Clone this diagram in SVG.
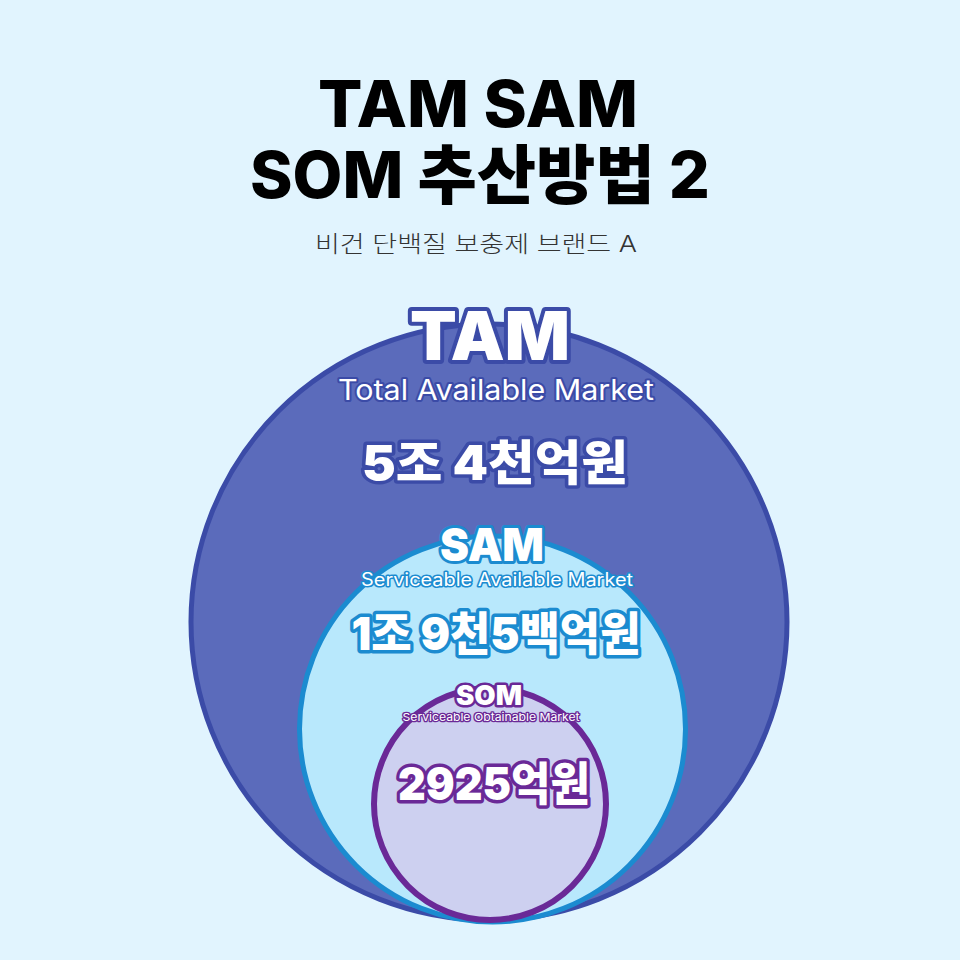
<svg xmlns="http://www.w3.org/2000/svg" width="960" height="960" viewBox="0 0 960 960">
<style>
.t{font-family:Inter,"Noto Sans CJK KR","Liberation Sans",sans-serif;text-anchor:middle}
.h{font-weight:800;fill:#000}
.o{font-weight:900;fill:#fff;paint-order:stroke;stroke-linejoin:round}
.s{font-weight:400;fill:#fff;paint-order:stroke;stroke-linejoin:round}
</style>
<rect width="960" height="960" fill="#E1F4FE"/>
<g id="title">
<text class="t h" x="478" y="127" font-size="64" textLength="320" lengthAdjust="spacingAndGlyphs">TAM SAM</text>
<text class="t h" x="480" y="198" font-size="64" textLength="460" lengthAdjust="spacingAndGlyphs">SOM 추산방법 2</text>
<text class="t" x="476" y="252" font-size="23" fill="#333" font-weight="300" textLength="322" lengthAdjust="spacingAndGlyphs">비건 단백질 보충제 브랜드 A</text>
</g>
<g id="tam">
<circle cx="489" cy="622" r="298" fill="#5B6BBB" stroke="#3B4BA7" stroke-width="5"/>
</g>
<g id="sam">
<circle cx="492.5" cy="729" r="193" fill="#B8E8FC" stroke="#1B8BD0" stroke-width="5"/>
</g>
<g id="som">
<circle cx="490" cy="804" r="116" fill="#CDD0F0" stroke="#6A2997" stroke-width="6"/>
</g>
<g id="tam-labels">
<text class="t o" x="490" y="360" font-size="68" stroke="#3B4BA7" stroke-width="8" textLength="160" lengthAdjust="spacingAndGlyphs">TAM</text>
<text class="t s" x="496" y="400" font-size="28" stroke="#3B4BA7" stroke-width="4" textLength="316" lengthAdjust="spacingAndGlyphs">Total Available Market</text>
<text class="t o" x="495" y="480" font-size="48" stroke="#3B4BA7" stroke-width="7" textLength="266" lengthAdjust="spacingAndGlyphs">5조 4천억원</text>
</g>
<g id="sam-labels">
<text class="t o" x="492" y="561" font-size="46" stroke="#1B8BD0" stroke-width="6" textLength="104" lengthAdjust="spacingAndGlyphs">SAM</text>
<text class="t s" x="497" y="586" font-size="18" stroke="#1B8BD0" stroke-width="3" textLength="272" lengthAdjust="spacingAndGlyphs">Serviceable Available Market</text>
<text class="t o" x="496" y="650" font-size="46" stroke="#1B8BD0" stroke-width="7" textLength="289" lengthAdjust="spacingAndGlyphs">1조 9천5백억원</text>
</g>
<g id="som-labels">
<text class="t o" x="489" y="705" font-size="27" stroke="#6A2997" stroke-width="5" textLength="66" lengthAdjust="spacingAndGlyphs">SOM</text>
<text class="t s" x="491" y="721" font-size="11" stroke="#6A2997" stroke-width="2.5" textLength="177" lengthAdjust="spacingAndGlyphs">Serviceable Obtainable  Market</text>
<text class="t o" x="494" y="800" font-size="46" stroke="#6A2997" stroke-width="7" textLength="192" lengthAdjust="spacingAndGlyphs">2925억원</text>
</g>
</svg>
